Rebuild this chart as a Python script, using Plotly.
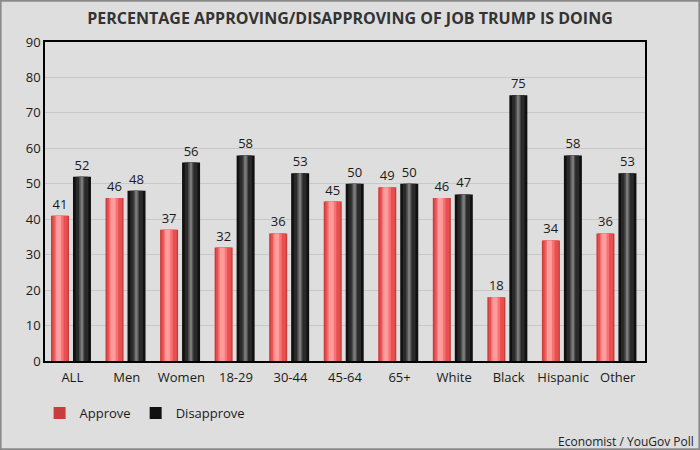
import plotly.graph_objects as go

categories = ["ALL", "Men", "Women", "18-29", "30-44", "45-64", "65+", "White", "Black", "Hispanic", "Other"]
approve = [41, 46, 37, 32, 36, 45, 49, 46, 18, 34, 36]
disapprove = [52, 48, 56, 58, 53, 50, 50, 47, 75, 58, 53]
y_ticks = [0, 10, 20, 30, 40, 50, 60, 70, 80, 90]

FONT = "Open Sans"
BG = "#dedede"

fig = go.Figure()

W = 0.33
offsets = {"a": -0.39, "d": 0.013}

def add_series(vals, key, name, layers, show_text):
    off = offsets[key]
    for i, (frac_l, frac_w, col) in enumerate(layers):
        fig.add_trace(go.Bar(
            x=categories, y=vals, name=name,
            width=W * frac_w, offset=off + W * frac_l,
            marker=dict(color=col, line=dict(width=0)),
            showlegend=(i == 0), legendgroup=name,
            text=[str(v) for v in vals] if (i == 0 and show_text) else None,
            textposition="outside", cliponaxis=False,
            textfont=dict(family=FONT, size=13, color="#1a1a1a"),
            hoverinfo="skip" if i > 0 else None,
        ))

add_series(approve, "a", "Approve", [
    (0.0, 1.0, "#c83c3c"),
    (0.08, 0.84, "#e85050"),
    (0.2, 0.5, "#f77272"),
    (0.28, 0.28, "#ff9c9c"),
], True)
add_series(disapprove, "d", "Disapprove", [
    (0.0, 1.0, "#111111"),
    (0.15, 0.7, "#2a2a2a"),
    (0.33, 0.3, "#4e4e4e"),
    (0.42, 0.14, "#7a7a7a"),
], True)

fig.update_layout(
    width=700, height=450,
    barmode="overlay",
    paper_bgcolor=BG, plot_bgcolor=BG,
    margin=dict(l=45, r=55, t=42, b=89),
    font=dict(family=FONT, size=13, color="#1a1a1a"),
    title=dict(text="<b>PERCENTAGE APPROVING/DISAPPROVING OF JOB TRUMP IS DOING</b>",
               x=0.5, xanchor="center", y=0.96, yanchor="middle",
               font=dict(family=FONT, size=16, color="#333333")),
    showlegend=True,
    legend=dict(orientation="h", x=-0.009, xanchor="left", y=-0.163, yanchor="middle",
                bgcolor="rgba(0,0,0,0)", font=dict(family=FONT, size=13),
                itemwidth=30, traceorder="normal"),
    xaxis=dict(showline=True, linecolor="black", linewidth=1.5, mirror=True,
               ticks="", tickfont=dict(family=FONT, size=13), showgrid=False,
               ticklabelstandoff=4),
    yaxis=dict(range=[0, 90], tickvals=y_ticks, showline=True, linecolor="black",
               linewidth=1.5, mirror=True, gridcolor="#c8c8c8", gridwidth=1,
               ticks="", tickfont=dict(family=FONT, size=13), zeroline=False),
    annotations=[dict(text="Economist / YouGov Poll", xref="paper", yref="paper",
                      x=1.085, y=-0.252, xanchor="right", yanchor="middle", showarrow=False,
                      font=dict(family=FONT, size=12, color="#222222"))],
    shapes=[dict(type="rect", xref="paper", yref="paper",
                 x0=-45/600 + 0.001, x1=1 + 55/600 - 0.001, y0=-89/319 + 0.002, y1=1 + 42/319 - 0.002,
                 line=dict(color="#8a8a8a", width=2), fillcolor="rgba(0,0,0,0)", layer="above")],
)

fig.write_html("out.html", config={"displayModeBar": False},
               post_script="document.body.style.margin='0';document.body.style.overflow='hidden';")
